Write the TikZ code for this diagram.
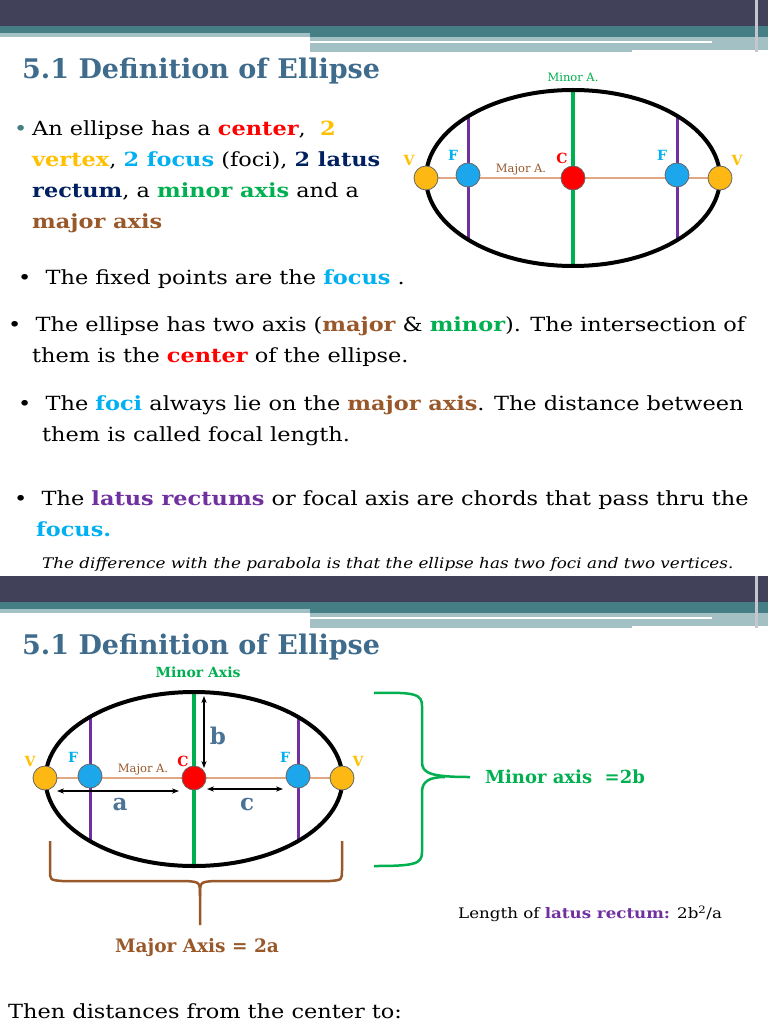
\documentclass[tikz,border=0pt]{standalone}
\usepackage{fontspec}
\setmainfont{DejaVu Serif}
\newfontfamily\wideser[FakeStretch=1.15]{DejaVu Serif}
\usetikzlibrary{arrows.meta}
\definecolor{hdark}{HTML}{41425A}
\definecolor{hteal}{HTML}{457E84}
\definecolor{hlight}{HTML}{A3C1C4}
\definecolor{ttl}{HTML}{3F6B8C}
\definecolor{cred}{HTML}{FF0000}
\definecolor{cyel}{HTML}{FFC000}
\definecolor{cblue}{HTML}{00B0F0}
\definecolor{cnavy}{HTML}{002060}
\definecolor{cgreen}{HTML}{00B050}
\definecolor{cbrown}{HTML}{99582A}
\definecolor{cpurp}{HTML}{7030A0}
\definecolor{ctan}{HTML}{E0A882}
\definecolor{vfill}{HTML}{FDB813}
\definecolor{ffill}{HTML}{1CA7EC}
\definecolor{blet}{HTML}{4A7396}
\tikzset{
 body/.style={anchor=base west,inner sep=0pt,font=\wideser\fontsize{19.5}{24}\selectfont},
 ttlst/.style={anchor=base west,inner sep=0pt,font=\fontsize{27}{30}\selectfont\bfseries,text=ttl},
 vdot/.style={circle,draw=black!60,fill=vfill,minimum size=24pt,inner sep=0pt,line width=0.8pt},
 fdot/.style={circle,draw=black!60,fill=ffill,minimum size=24pt,inner sep=0pt,line width=0.8pt},
 cdot/.style={circle,draw=black!60,fill=cred,minimum size=24pt,inner sep=0pt,line width=0.8pt},
 lbl/.style={inner sep=0pt,font=\fontsize{14}{16}\selectfont\bfseries},
 smlbl/.style={inner sep=0pt,font=\fontsize{11.5}{13}\selectfont},
 dim/.style={{Stealth[length=7pt]}-{Stealth[length=7pt]},line width=1.3pt},
}
\newcommand{\hdr}[1]{%
 \fill[hdark] (0,#1) rectangle (768,#1+26);
 \fill[hteal] (0,#1+26) rectangle (768,#1+37);
 \fill[hlight] (0,#1+33) rectangle (310,#1+37);
 \fill[hlight] (310,#1+37) rectangle (768,#1+52);
 \fill[white] (310,#1+41) rectangle (712,#1+43);
 \fill[white] (632,#1+50) rectangle (768,#1+52);
 \fill[white!70!hdark] (755,#1) rectangle (758,#1+52);
}
\begin{document}
\begin{tikzpicture}[x=1pt,y=-1pt]
\useasboundingbox (0,0) rectangle (768,1024);
\fill[white] (0,0) rectangle (768,1024);
\hdr{0}
\hdr{576}
% ---- slide 1
\node[ttlst] (t1) at (22,79) {5.1 Definition of Ellipse};
\node[body,text=hteal] (b1) at (14,136) {•};
\node[body] (l1) at (32,136) {An ellipse has a \textcolor{cred}{\bfseries center},\ \ \textcolor{cyel}{\bfseries 2}};
\node[body] (l2) at (32,167) {\textcolor{cyel}{\bfseries vertex}, \textcolor{cblue}{\bfseries 2 focus} (foci), \textcolor{cnavy}{\bfseries 2 latus}};
\node[body] (l3) at (32,198) {\textcolor{cnavy}{\bfseries rectum}, a \textcolor{cgreen}{\bfseries minor axis} and a};
\node[body] (l4) at (32,229) {\textcolor{cbrown}{\bfseries major axis}};
\node[body] (l5) at (18,284) {•\ \ The fixed points are the \textcolor{cblue}{\bfseries focus} .};
\node[body] (l6) at (8,331) {•\ \ The ellipse has two axis (\textcolor{cbrown}{\bfseries major} \& \textcolor{cgreen}{\bfseries minor}). The intersection of};
\node[body] (l7) at (32,362) {them is the \textcolor{cred}{\bfseries center} of the ellipse.};
\node[body] (l8) at (18,410) {•\ \ The \textcolor{cblue}{\bfseries foci} always lie on the \textcolor{cbrown}{\bfseries major axis}. The distance between};
\node[body] (l9) at (42,441) {them is called focal length.};
\node[body] (l10) at (14,505) {•\ \ The \textcolor{cpurp}{\bfseries latus rectums} or focal axis are chords that pass thru the};
\node[body] (l11) at (36,536) {\textcolor{cblue}{\bfseries focus.}};
\node[anchor=base west,inner sep=0pt,font=\wideser\fontsize{14.6}{16}\selectfont\itshape] (it) at (42,568) {The difference with the parabola is that the ellipse has two foci and two vertices.};
% ellipse 1
\coordinate (e1) at (573,178);
\draw[ctan,line width=2.5pt] (426,178) -- (720,178);
\draw[cpurp,line width=3pt] (468,117) -- (468,240);
\draw[cpurp,line width=3pt] (677,117) -- (677,240);
\draw[cgreen,line width=3.5pt] (573,90) -- (573,266);
\draw[line width=4pt] (e1) ellipse [x radius=147,y radius=88];
\node[vdot] (v1) at (426,178) {};
\node[vdot] (v2) at (720,178) {};
\node[fdot] (f1) at (468,175) {};
\node[fdot] (f2) at (677,175) {};
\node[cdot] (c1) at (573,178) {};
\node[smlbl,text=cgreen] at (573,77) {Minor A.};
\node[lbl,text=cyel] at (409,160) {V};
\node[lbl,text=cblue] at (453,155) {F};
\node[smlbl,text=cbrown] at (521,170) {Major A.};
\node[lbl,text=cred] at (562,158) {C};
\node[lbl,text=cblue] at (662,155) {F};
\node[lbl,text=cyel] at (737,160) {V};
% ---- slide 2
\node[ttlst] (t2) at (22,654) {5.1 Definition of Ellipse};
\coordinate (e2) at (194,779);
\draw[ctan,line width=2.5pt] (45,778) -- (342,778);
\draw[cpurp,line width=3pt] (90,716) -- (90,842);
\draw[cpurp,line width=3pt] (298,716) -- (298,842);
\draw[cgreen,line width=3.5pt] (194,692) -- (194,866);
\draw[line width=4pt] (e2) ellipse [x radius=148.5,y radius=87];
\node[vdot] (v3) at (45,778) {};
\node[vdot] (v4) at (342,778) {};
\node[fdot] (f3) at (90,776) {};
\node[fdot] (f4) at (298,776) {};
\node[cdot] (c2) at (194,778) {};
\coordinate (bt) at (204,696);
\coordinate (bb) at (204,768);
\draw[dim] (bt) -- (bb);
\coordinate (as) at (57,791);
\coordinate (ae) at (179,791);
\draw[dim] (as) -- (ae);
\coordinate (cs) at (207,789);
\coordinate (ce) at (283,789);
\draw[dim] (cs) -- (ce);
\node[inner sep=0pt,text=blet,font=\fontsize{23}{26}\selectfont\bfseries] at (218,736) {b};
\node[inner sep=0pt,text=blet,font=\fontsize{23}{26}\selectfont\bfseries] at (120,805) {a};
\node[inner sep=0pt,text=blet,font=\fontsize{23}{26}\selectfont\bfseries] at (247,805) {c};
\node[lbl,text=cgreen] at (198,672) {Minor Axis};
\node[lbl,text=cyel] at (30,761) {V};
\node[lbl,text=cblue] at (73,757) {F};
\node[smlbl,text=cbrown] at (143,770) {Major A.};
\node[lbl,text=cred] at (183,761) {C};
\node[lbl,text=cblue] at (285,757) {F};
\node[lbl,text=cyel] at (358,761) {V};
% brown brace
\draw[cbrown,line width=2.5pt,line join=round] (50,841) -- (50,870) .. controls (50,880) .. (62,881) -- (186,881) .. controls (200,882) .. (200,896) -- (200,925);
\draw[cbrown,line width=2.5pt,line join=round] (342,841) -- (342,870) .. controls (342,880) .. (330,881) -- (214,881) .. controls (200,882) .. (200,896);
\node[inner sep=0pt,text=cbrown,font=\fontsize{18.5}{21}\selectfont\bfseries] (maj) at (197,948) {Major Axis = 2a};
% green brace
\draw[cgreen,line width=2.5pt,line join=round] (374,693) .. controls (415,692) and (422,694) .. (422,706) -- (422,762) .. controls (422,773) and (430,777) .. (470,777);
\draw[cgreen,line width=2.5pt,line join=round] (374,866) .. controls (415,866) and (422,864) .. (422,852) -- (422,792) .. controls (422,781) and (430,777) .. (445,777);
\node[anchor=west,inner sep=0pt,text=cgreen,font=\fontsize{18}{21}\selectfont\bfseries] (minr) at (485,777) {Minor axis\ \ =2b};
\node[anchor=west,inner sep=0pt,font=\wideser\fontsize{14.5}{17}\selectfont] (len) at (458,914) {Length of \textcolor{cpurp}{\bfseries latus rectum:} 2b\textsuperscript{2}/a};
\node[body] (last) at (8,1018) {Then distances from the center to:};
\end{tikzpicture}
\end{document}
